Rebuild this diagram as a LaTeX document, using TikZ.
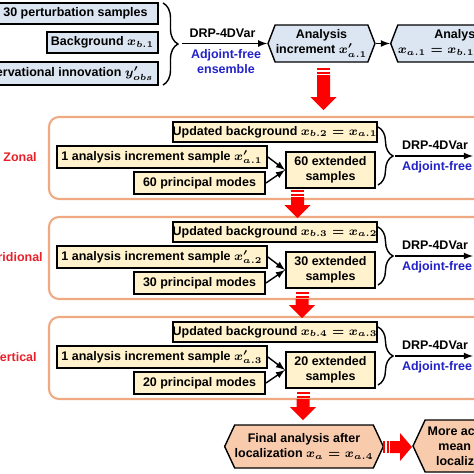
\documentclass[tikz,border=0pt]{standalone}
\usepackage{fontspec}
\setmainfont{Liberation Sans}
\usepackage{amsmath}
\usetikzlibrary{shapes.symbols,decorations.pathreplacing}
\definecolor{boxblue}{HTML}{DCE6F2}
\definecolor{boxbeige}{HTML}{FFF2CC}
\definecolor{panelline}{HTML}{EFA983}
\definecolor{finalfill}{HTML}{F8CBAD}
\definecolor{labelred}{HTML}{E8202A}
\definecolor{textblue}{HTML}{2222C8}

\begin{document}
\begin{tikzpicture}[x=0.02cm,y=-0.02cm,>=latex,
  every node/.style={font=\bfseries\boldmath\fontsize{7.1}{8.5}\selectfont,inner sep=0pt},
  bluebox/.style={draw,thick,fill=boxblue},
  beigebox/.style={draw,line width=1.1pt,fill=boxbeige},
  hexa/.style={draw,thick,signal,signal to=east and west,signal pointer angle=130},
  panel/.style={draw=panelline,line width=1.2pt,rounded corners=0.2cm},
  bracket/.style={decorate,decoration={brace,amplitude=0.3cm},thick},
  conn/.style={->,thick}]
\useasboundingbox (0,0) rectangle (474,474);
\clip (0,0) rectangle (474,474);
% draw first stage inputs
\node[bluebox,minimum width=3.3cm,minimum height=0.42cm] (pert) at (75.5,13.5) {30 perturbation samples};
\node[bluebox,minimum width=2.22cm,minimum height=0.42cm] (bkg) at (102.5,42.5) {Background $x_{b.1}$};
\node[bluebox,minimum width=3.82cm,minimum height=0.46cm] (obs) at (62.5,73.5) {Observational innovation $y'_{obs}$};
\draw[bracket] (163,3) -- (163,85);
% draw first analysis
\coordinate (brtip1) at (182,43.5);
\node (drp1) at (222.5,33) {DRP-4DVar};
\node[text=textblue,align=center] (adj1) at (226,61.5) {Adjoint-free\\ensemble};
\node[hexa,fill=boxblue,signal pointer angle=138,minimum width=2.14cm,minimum height=0.74cm,align=center] (incr1) at (321.5,43.5) {Analysis\\increment $x'_{a.1}$};
\node[hexa,fill=boxblue,signal pointer angle=138,minimum width=2.32cm,minimum height=0.74cm,align=center] (anal1) at (460,43.5) {Analysis\\$x_{a.1}=x_{b.1}+x'_{a.1}$};
\draw[conn] (brtip1) -- (incr1.west);
\draw[conn] (incr1.east) -- (anal1.west);
% draw localization stages
\foreach \d/\b/\a/\n/\name/\lx in {0/2/1/60/Zonal/37,100/3/2/30/Meridional/43,200/4/3/20/Vertical/37}{
  \draw[panel] (49,117+\d) rectangle (530,199+\d);
  \node[anchor=east,text=labelred] (lab\b) at (\lx,157+\d) {\name};
  \node[beigebox,minimum width=4cm,minimum height=0.4cm] (upd\b) at (275,132+\d) {Updated background $x_{b.\b}=x_{a.\a}$};
  \node[beigebox,minimum width=4.2cm,minimum height=0.44cm] (inc\b) at (162,157+\d) {1 analysis increment sample $x'_{a.\a}$};
  \node[beigebox,minimum width=2.62cm,minimum height=0.44cm] (mod\b) at (199.5,183+\d) {\n\ principal modes};
  \node[beigebox,minimum width=1.78cm,minimum height=0.72cm,align=center] (ext\b) at (330.5,170+\d) {\n\ extended\\samples};
  \draw[conn] (inc\b.east) -- (ext\b.west);
  \draw[conn] (mod\b.east) -- (ext\b.west);
  \draw[bracket] (378,127+\d) -- (378,185+\d);
  \coordinate (brtip\b) at (395,156+\d);
  \coordinate (out\b) at (473,156+\d);
  \draw[conn] (brtip\b) -- (out\b);
  \node (drp\b) at (435,145+\d) {DRP-4DVar};
  \node[text=textblue] (adj\b) at (437,167+\d) {Adjoint-free};
}
% draw red block arrows
\foreach \x/\ys/\ye in {323.5/68/110,297.5/190/218,302/292/318,303/392/420}{
  \fill[red] (\x-6.5,\ys) rectangle (\x+6.5,\ys+2);
  \fill[red] (\x-6.5,\ys+3.5) rectangle (\x+6.5,\ys+5.5);
  \fill[red] (\x-6.5,\ys+7) -- (\x+6.5,\ys+7) -- (\x+6.5,\ye-13) -- (\x+13,\ye-13)
    -- (\x,\ye) -- (\x-13,\ye-13) -- (\x-6.5,\ye-13) -- cycle;
}
% draw final result
\node[hexa,fill=finalfill,minimum width=3.04cm,minimum height=0.86cm,align=center] (final) at (304,446.5) {Final analysis after\\localization $x_a=x_{a.4}$};
\node[hexa,fill=finalfill,minimum width=2.28cm,minimum height=1.04cm,align=center] (mean) at (470,446) {More accurate\\mean after\\localization};
\fill[red] (383,441) rectangle (385,453);
\fill[red] (386.5,441) rectangle (388.5,453);
\fill[red] (390,441) -- (400,441) -- (400,433) -- (412,447) -- (400,461) -- (400,453) -- (390,453) -- cycle;
\end{tikzpicture}
\end{document}
